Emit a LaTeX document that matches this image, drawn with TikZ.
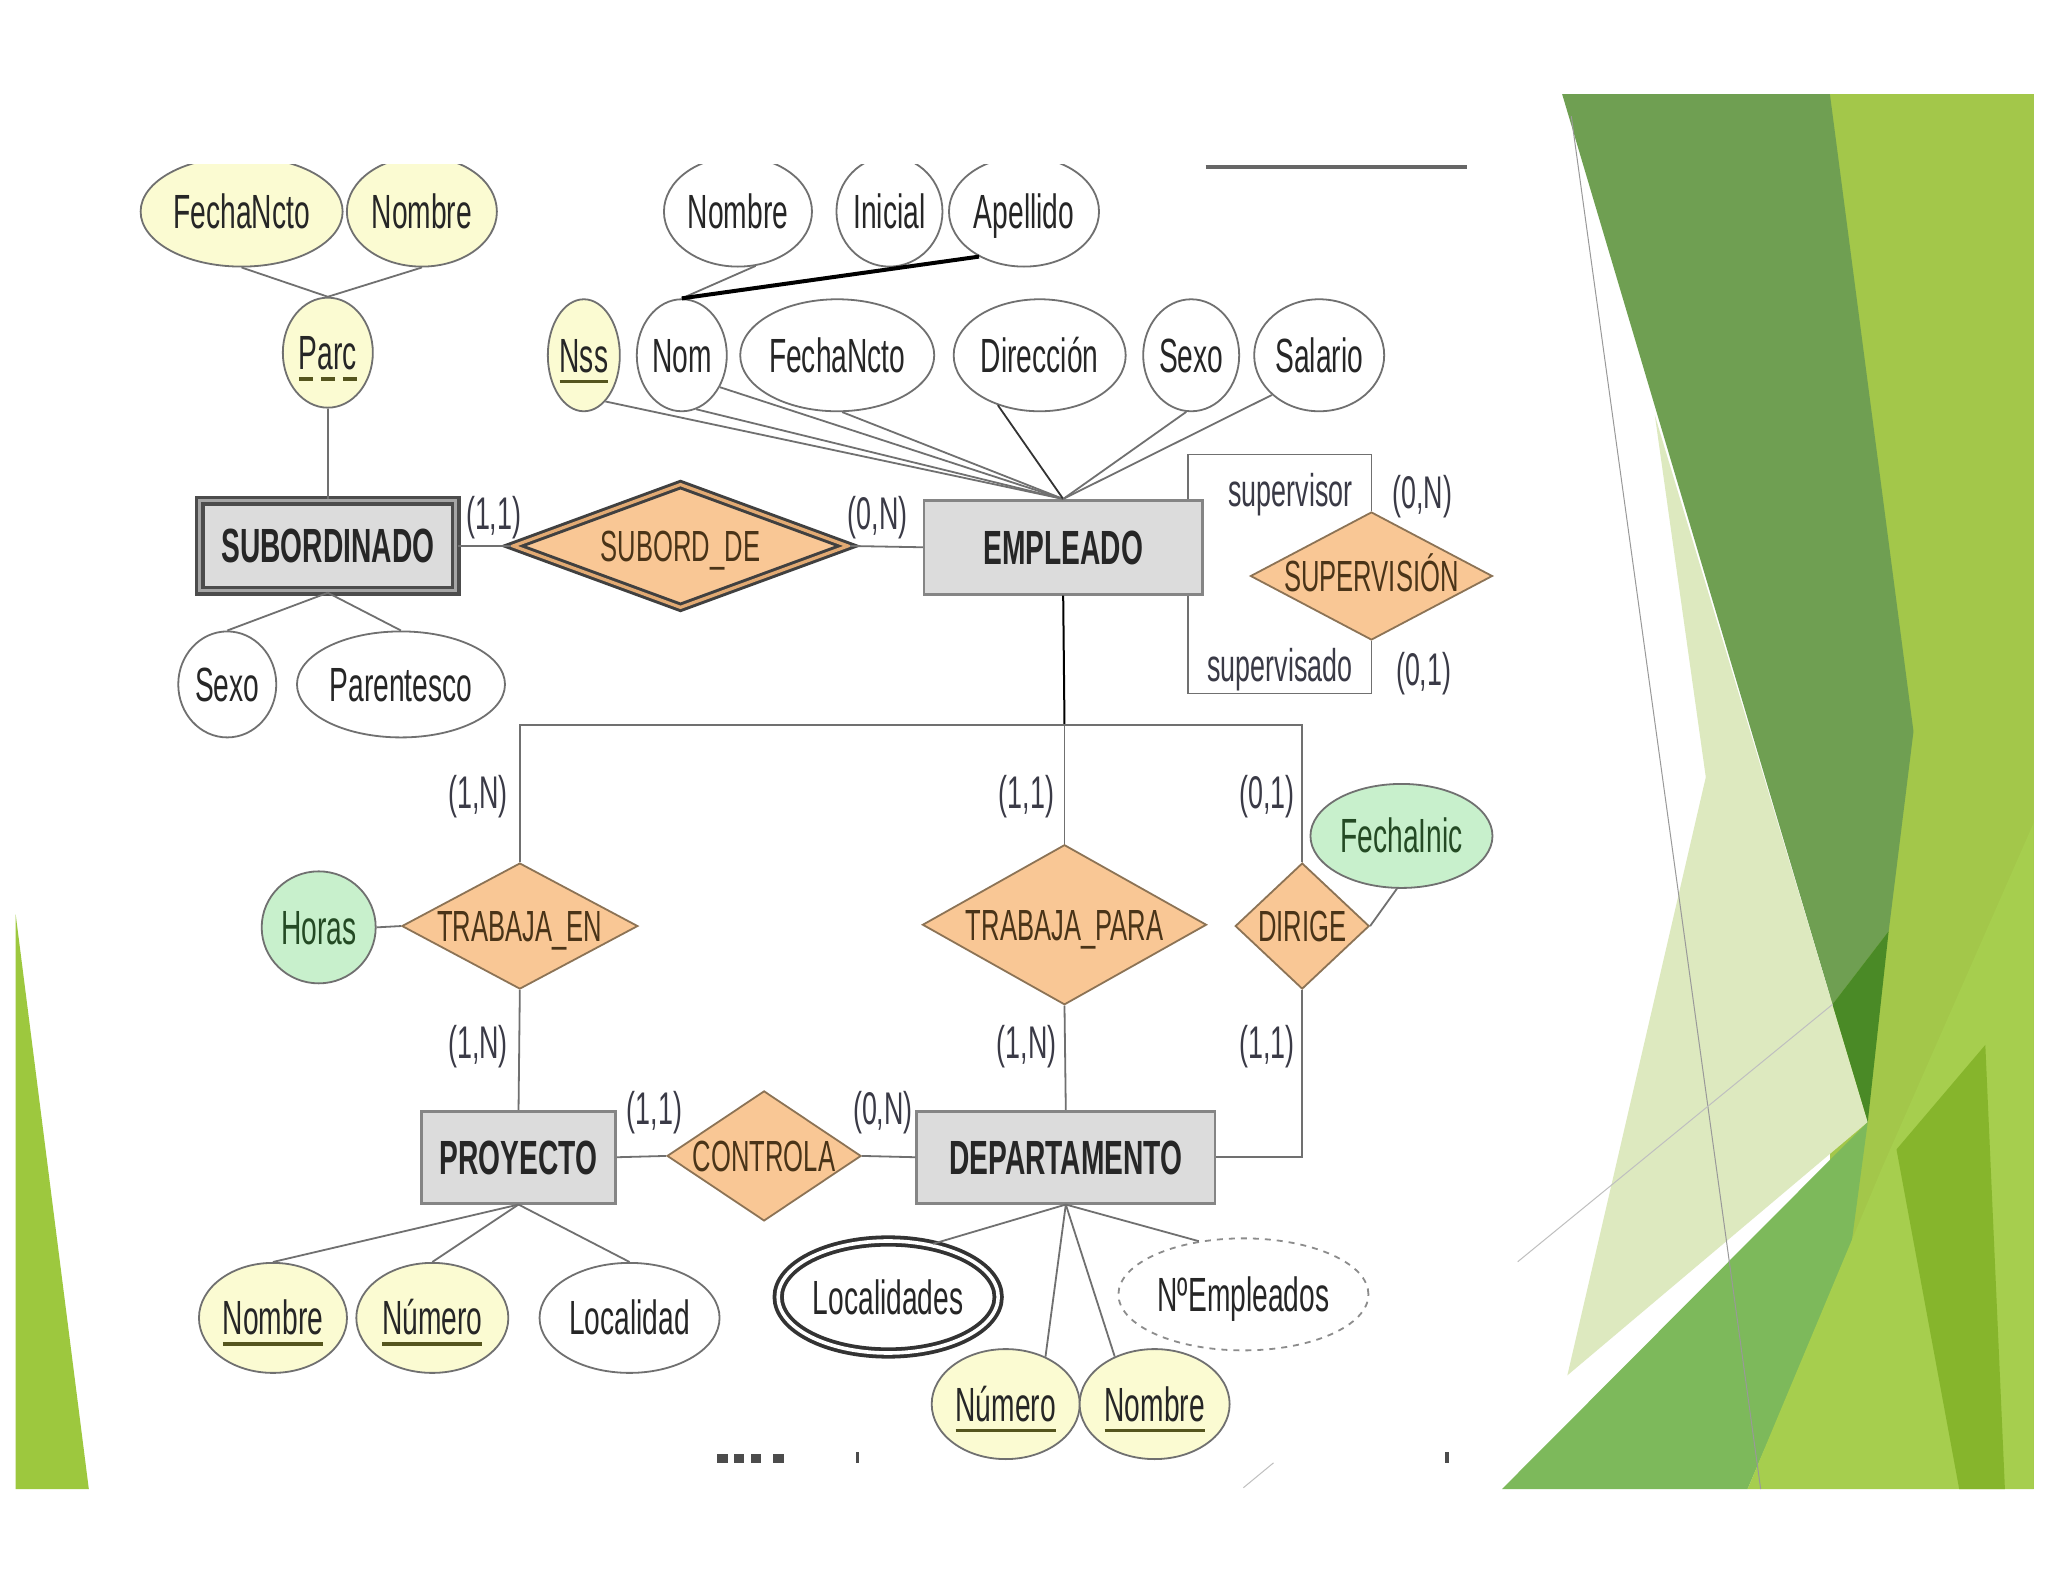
\documentclass[tikz,border=0pt]{standalone}
\usepackage{fontspec}
\setmainfont{Liberation Sans}[FakeStretch=0.587]
\usetikzlibrary{shapes.geometric,calc}
\definecolor{yel}{HTML}{FBFBD2}
\definecolor{grn}{HTML}{C8F0CC}
\definecolor{relf}{HTML}{F9C795}
\definecolor{relb}{HTML}{8C7355}
\definecolor{entf}{HTML}{DCDCDC}
\definecolor{entb}{HTML}{858585}
\definecolor{lineg}{HTML}{707070}
\definecolor{txt}{HTML}{262626}
\definecolor{gtxt}{HTML}{244A24}
\definecolor{reltxt}{HTML}{4A3418}
\definecolor{ctxt}{HTML}{3A3A46}
\definecolor{ulc}{HTML}{55551E}
\definecolor{gdark}{HTML}{6F9F52}
\definecolor{glight}{HTML}{A3C74A}
\definecolor{gpale}{HTML}{DDE9BF}
\definecolor{gband}{HTML}{7DB95B}
\definecolor{gyg}{HTML}{A6CE4E}
\definecolor{gdyg}{HTML}{86B52C}
\definecolor{gdeep}{HTML}{4A8A26}
\definecolor{gleft}{HTML}{9DC83E}
\newcommand{\fa}{\fontsize{24}{26}\selectfont}
\newcommand{\fe}{\fontsize{24}{26}\selectfont\bfseries}
\newcommand{\fr}{\fontsize{21.8}{24}\selectfont}
\newcommand{\fc}{\fontsize{22.9}{25}\selectfont}
\newcommand{\zw}[1]{\makebox[0pt]{#1}}
\newcommand{\ulx}[1]{\setbox0=\hbox{#1}\rlap{\copy0}\raisebox{-5.5pt}{\color{ulc}\rule{\wd0}{1.7pt}}}
\newcommand{\dulx}[1]{\setbox0=\hbox{#1}\rlap{\copy0}\raisebox{-5.5pt}{\hbox to \wd0{\color{ulc}\rule{0.24\wd0}{1.7pt}\hfil\rule{0.24\wd0}{1.7pt}\hfil\rule{0.24\wd0}{1.7pt}}}}
\tikzset{
  conn/.style={draw=lineg, line width=0.9pt},
  attr/.style={ellipse, draw=lineg, line width=0.9pt, inner sep=0pt, font=\fa, text=txt, text height=17pt, text depth=0pt},
  ya/.style={attr, fill=yel},
  wa/.style={attr, fill=white},
  ga/.style={attr, fill=grn, text=gtxt},
  ent/.style={rectangle, draw=entb, fill=entf, line width=1.3pt, inner sep=0pt, font=\fe, text=txt, text height=17pt, text depth=0pt},
  rel/.style={diamond, draw=relb, fill=relf, line width=0.9pt, inner sep=0pt, font=\fr, text=reltxt, text height=15.6pt, text depth=0pt},
  card/.style={font=\fc, text=ctxt, inner sep=0pt},
}
\begin{document}
\begin{tikzpicture}[x=0.653pt,y=-0.653pt]
\useasboundingbox (0,0) rectangle (1568,1211);
\fill[white] (0,0) rectangle (1568,1211);
% background decoration
\fill[gleft] (12,700) -- (12,1140) -- (68,1140) -- cycle;
\fill[glight] (1401,72) rectangle (1557,1140);
\fill[gdark] (1196,72) -- (1401,72) -- (1465,560) -- (1446,713) -- (1403,769) -- cycle;
\fill[gpale] (1267,318) -- (1403,769) -- (1430,859) -- (1200,1053) -- (1306,595) -- cycle;
\fill[gband] (1150,1140) -- (1430,859) -- (1417,956) -- (1338,1140) -- cycle;
\fill[gyg] (1338,1140) -- (1441,894) -- (1557,630) -- (1557,1140) -- cycle;
\fill[gdyg] (1452,880) -- (1520,800) -- (1535,1140) -- (1500,1140) -- cycle;
\fill[gdeep] (1403,769) -- (1446,713) -- (1430,859) -- cycle;
\draw[black!40, line width=0.5pt] (1203,89) -- (1348,1140);
\draw[black!25, line width=0.5pt] (1162,966) -- (1403,769);
\draw[black!25, line width=0.5pt] (975,1120) -- (952,1139);
% top rule and cut-off marks
\draw[black!60, line width=2.2pt] (923,128) -- (1123,128);
\foreach \xx in {549,562,575,592} \fill[black!70] (\xx,1113) rectangle ++(8,7);
\fill[black!70] (655,1112) rectangle ++(3,8);
\fill[black!70] (1106,1112) rectangle ++(3,8);
% clipped top row
\begin{scope}
\clip (0,126) rectangle (1568,1211);
\node[ya, minimum width=101pt, minimum height=55pt] (fn1) at (185,162) {\zw{FechaNcto}};
\node[ya, minimum width=75pt, minimum height=55pt] (nb1) at (323,162) {\zw{Nombre}};
\node[wa, minimum width=74pt, minimum height=55pt] (nb2) at (565,162) {\zw{Nombre}};
\node[wa, minimum width=53pt, minimum height=55pt] (ini) at (681,162) {\zw{Inicial}};
\node[wa, minimum width=75pt, minimum height=55pt] (ap) at (784,162) {\zw{Apellido}};
\end{scope}
% SUBORDINADO side
\node[ya, minimum width=45pt, minimum height=55pt] (parc) at (251,270) {\zw{\dulx{Parc}}};
\node[ent, minimum width=128pt, minimum height=45pt, draw=black!70, line width=1.8pt, double=black!35, double distance=1.5pt] (sub) at (251,418) {SUBORDINADO};
\node[wa, minimum width=49pt, minimum height=53pt] (sx1) at (174,524) {\zw{Sexo}};
\node[wa, minimum width=104pt, minimum height=53pt] (par) at (307,524) {\zw{Parentesco}};
\node[rel, minimum width=168pt, minimum height=62pt, draw=black!75, line width=1.5pt, double=relf!60!brown, double distance=1.6pt] (sd) at (521,418) {\zw{SUBORD\_DE}};
% EMPLEADO and attributes
\node[ent, minimum width=139pt, minimum height=47pt] (emp) at (814,419) {EMPLEADO};
\node[ya, minimum width=36pt, minimum height=56pt] (nss) at (447,272) {\zw{\ulx{Nss}}};
\node[wa, minimum width=45pt, minimum height=56pt] (nom) at (522,272) {\zw{Nom}};
\node[wa, minimum width=97pt, minimum height=56pt] (fn2) at (641,272) {\zw{FechaNcto}};
\node[wa, minimum width=86pt, minimum height=56pt] (dir) at (796,272) {\zw{Dirección}};
\node[wa, minimum width=48pt, minimum height=56pt] (sx2) at (912,272) {\zw{Sexo}};
\node[wa, minimum width=65pt, minimum height=56pt] (sal) at (1010,272) {\zw{Salario}};
\node[rel, minimum width=121pt, minimum height=64pt] (sv) at (1050,441) {\zw{SUPERVISIÓN}};
% middle relationships
\node[rel, minimum width=118pt, minimum height=63pt] (te) at (398,709) {\zw{TRABAJA\_EN}};
\node[ga, minimum width=57pt, minimum height=56pt] (hor) at (244,710) {\zw{Horas}};
\node[rel, minimum width=142pt, minimum height=80pt] (tp) at (815,708) {\zw{TRABAJA\_PARA}};
\node[rel, minimum width=67pt, minimum height=63pt] (di) at (997,709) {\zw{DIRIGE}};
\node[ga, minimum width=91pt, minimum height=52pt] (fi) at (1073,640) {\zw{FechaInic}};
% bottom entities
\node[ent, minimum width=97pt, minimum height=46pt] (pro) at (397,886) {PROYECTO};
\node[rel, minimum width=97pt, minimum height=65pt] (ct) at (585,885) {\zw{CONTROLA}};
\node[ent, minimum width=149pt, minimum height=46pt] (dep) at (816,886) {DEPARTAMENTO};
\node[ya, minimum width=74pt, minimum height=55pt] (nb3) at (209,1009) {\zw{\ulx{Nombre}}};
\node[ya, minimum width=76pt, minimum height=55pt] (nu3) at (331,1009) {\zw{\ulx{Número}}};
\node[wa, minimum width=90pt, minimum height=55pt] (loc) at (482,1009) {\zw{Localidad}};
\node[wa, minimum width=110pt, minimum height=56pt, draw=black!80, line width=1.9pt, double=white, double distance=1.8pt] (locs) at (680,993) {\zw{Localidades}};
\node[wa, minimum width=125pt, minimum height=56pt, dashed, draw=black!45] (nemp) at (952,991) {\zw{NºEmpleados}};
\node[ya, minimum width=74pt, minimum height=55pt] (nu4) at (770,1075) {\zw{\ulx{Número}}};
\node[ya, minimum width=75pt, minimum height=55pt] (nb4) at (884,1075) {\zw{\ulx{Nombre}}};
% connectors
\draw[conn] (fn1.south) -- (parc.north);
\draw[conn] (nb1.south) -- (parc.north);
\draw[conn] (parc.south) -- (sub.north);
\draw[conn] (sub.south) -- (sx1.north);
\draw[conn] (sub.south) -- (par.north);
\draw[conn] (sub.east) -- (sd.west);
\draw[conn] (sd.east) -- (emp.west);
\draw[conn] (nom.north) -- (nb2.-72);
\draw[black, line width=2pt] (nom.north) -- (ap.-135);
\draw[conn] (nss.-65) -- (emp.north);
\draw[conn] (nom.-75) -- (emp.north);
\draw[conn] (nom.-40) -- (emp.north);
\draw[conn] (fn2.-85) -- (emp.north);
\draw[conn, draw=black!80] (dir.-130) -- (emp.north);
\draw[conn] (sx2.-95) -- (emp.north);
\draw[conn] (sal.-140) -- (emp.north);
\draw[conn] ($(emp.north east)+(-12,0)$) -- ++(0,-34) -| (sv.north);
\draw[conn] ($(emp.south east)+(-12,0)$) -- ++(0,75) -| (sv.south);
\coordinate (bus) at (815,555);
\draw[black, line width=1pt] (emp.south) -- (bus);
\draw[conn] (bus) -- (tp.north);
\draw[conn] (te.north) |- (bus) -| (di.north);
\draw[conn] (hor.east) -- (te.west);
\draw[conn] (di.east) -- (fi.-95);
\draw[conn] (te.south) -- (pro.north);
\draw[conn] (tp.south) -- (dep.north);
\draw[conn] (di.south) |- (dep.east);
\draw[conn] (pro.east) -- (ct.west);
\draw[conn] (ct.east) -- (dep.west);
\draw[conn] (pro.south) -- (nb3.north);
\draw[conn] (pro.south) -- (nu3.north);
\draw[conn] (pro.south) -- (loc.north);
\draw[conn] (dep.south) -- (locs.50);
\draw[conn] (dep.south) -- (nu4.50);
\draw[conn] (dep.south) -- (nb4.130);
\draw[conn] (dep.south) -- (nemp.130);
% cardinalities and role names
\node[card] (c1) at (378,396) {(1,1)};
\node[card] (c2) at (672,396) {(0,N)};
\node[card] (r1) at (988,379) {supervisor};
\node[card] (c3) at (1089,380) {(0,N)};
\node[card] (r2) at (980,513) {supervisado};
\node[card] (c4) at (1090,516) {(0,1)};
\node[card] (c5) at (366,610) {(1,N)};
\node[card] (c6) at (786,610) {(1,1)};
\node[card] (c7) at (970,610) {(0,1)};
\node[card] (c8) at (366,801) {(1,N)};
\node[card] (c9) at (786,801) {(1,N)};
\node[card] (c10) at (970,801) {(1,1)};
\node[card] (c11) at (501,852) {(1,1)};
\node[card] (c12) at (676,852) {(0,N)};
\end{tikzpicture}
\end{document}
